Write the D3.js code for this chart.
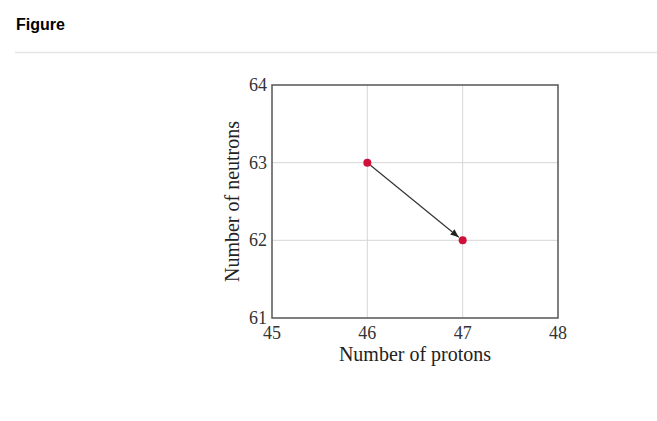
<!DOCTYPE html>
<html>
<head>
<meta charset="utf-8">
<script src="https://cdn.jsdelivr.net/npm/d3@7"></script>
<style>
  body { margin: 0; background: #fff; }
  text { font-family: "Liberation Serif", "DejaVu Serif", serif; }
</style>
</head>
<body>
<svg id="chart" width="657" height="421"></svg>
<script>
// data
var xTicks = [45, 46, 47, 48];
var yTicks = [61, 62, 63, 64];
var protons = [46, 47];
var neutrons = [63, 62];

var svg = d3.select("#chart");

// header
svg.append("text")
  .attr("x", 16).attr("y", 30)
  .style("font-family", "Liberation Sans, Arial, sans-serif")
  .style("font-weight", "bold")
  .style("font-size", "16px")
  .text("Figure");
svg.append("line")
  .attr("x1", 15).attr("x2", 657).attr("y1", 52.5).attr("y2", 52.5)
  .attr("stroke", "#e6e6e6").attr("stroke-width", 1.5);

var x = d3.scaleLinear().domain([45, 48]).range([272, 558]);
var y = d3.scaleLinear().domain([61, 64]).range([318, 85]);

// grid
svg.selectAll(".gx").data(xTicks.slice(1, -1)).enter().append("line")
  .attr("x1", d => x(d)).attr("x2", d => x(d)).attr("y1", y(61)).attr("y2", y(64))
  .attr("stroke", "#d6d6d6");
svg.selectAll(".gy").data(yTicks.slice(1, -1)).enter().append("line")
  .attr("y1", d => y(d)).attr("y2", d => y(d)).attr("x1", x(45)).attr("x2", x(48))
  .attr("stroke", "#d6d6d6");

// frame
svg.append("rect")
  .attr("x", x(45)).attr("y", y(64))
  .attr("width", x(48) - x(45)).attr("height", y(61) - y(64))
  .attr("fill", "none").attr("stroke", "#555").attr("stroke-width", 1.5);

// tick labels
svg.selectAll(".xl").data(xTicks).enter().append("text")
  .attr("x", d => x(d)).attr("y", 339)
  .attr("text-anchor", "middle").style("font-size", "18px").attr("fill", "#333")
  .text(d => d);
svg.selectAll(".yl").data(yTicks).enter().append("text")
  .attr("x", 267).attr("y", d => y(d) + 6)
  .attr("text-anchor", "end").style("font-size", "18px").attr("fill", "#333")
  .text(d => d);

// axis titles
svg.append("text")
  .attr("x", x(46.5)).attr("y", 361)
  .attr("text-anchor", "middle").style("font-size", "20px").attr("fill", "#222")
  .text("Number of protons");
svg.append("text")
  .attr("transform", "translate(239," + y(62.5) + ") rotate(-90)")
  .attr("text-anchor", "middle").style("font-size", "20px").attr("fill", "#222")
  .text("Number of neutrons");

// arrow
svg.append("defs").append("marker")
  .attr("id", "arr").attr("viewBox", "0 0 10 10").attr("refX", 10).attr("refY", 5)
  .attr("markerWidth", 7).attr("markerHeight", 7).attr("orient", "auto")
  .append("path").attr("d", "M0,1 L10,5 L0,9 z").attr("fill", "#222");

var x0 = x(protons[0]), y0 = y(neutrons[0]), x1 = x(protons[1]), y1 = y(neutrons[1]);
var len = Math.hypot(x1 - x0, y1 - y0), ux = (x1 - x0) / len, uy = (y1 - y0) / len;
svg.append("line")
  .attr("x1", x0 + ux * 4).attr("y1", y0 + uy * 4)
  .attr("x2", x1 - ux * 5).attr("y2", y1 - uy * 5)
  .attr("stroke", "#333").attr("stroke-width", 1.2)
  .attr("marker-end", "url(#arr)");

// points
svg.selectAll(".pt").data(protons).enter().append("circle")
  .attr("cx", d => x(d)).attr("cy", (d, i) => y(neutrons[i])).attr("r", 4)
  .attr("fill", "#d0103a");
</script>
</body>
</html>
